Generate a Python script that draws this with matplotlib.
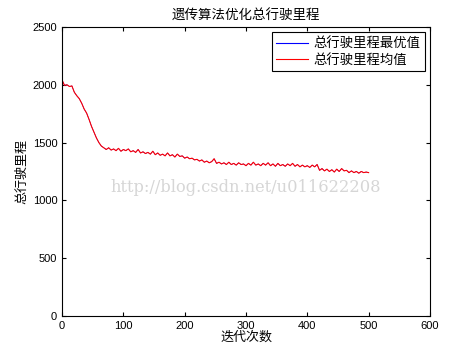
import numpy as np
import matplotlib
matplotlib.use('Agg')
import matplotlib.pyplot as plt

plt.rcParams['font.family'] = ['Noto Sans CJK SC', 'DejaVu Sans']

# iteration numbers (every 4th generation) and mean total distance
iters = list(range(0, 501, 4))
mean_dist = [2040, 1995, 2000, 1985, 1990, 1935, 1905, 1880, 1840, 1790,
             1755, 1700, 1640, 1590, 1540, 1500, 1470, 1455, 1440, 1455,
             1435, 1445, 1430, 1450, 1425, 1440, 1430, 1445, 1420, 1430,
             1415, 1440, 1410, 1420, 1405, 1415, 1400, 1425, 1395, 1410,
             1390, 1400, 1385, 1410, 1385, 1395, 1375, 1400, 1380, 1385,
             1365, 1375, 1360, 1365, 1350, 1355, 1340, 1350, 1330, 1340,
             1325, 1335, 1360, 1320, 1330, 1315, 1325, 1310, 1330, 1310,
             1320, 1305, 1325, 1310, 1315, 1300, 1320, 1305, 1330, 1305,
             1315, 1300, 1320, 1305, 1325, 1300, 1315, 1295, 1320, 1300,
             1310, 1295, 1315, 1300, 1320, 1295, 1310, 1290, 1305, 1290,
             1300, 1285, 1305, 1290, 1310, 1260, 1275, 1255, 1270, 1250,
             1265, 1245, 1270, 1250, 1275, 1255, 1260, 1240, 1255, 1240,
             1250, 1235, 1250, 1240, 1245, 1240]
best_dist = mean_dist  # best-value line is hidden under the mean line

fig = plt.figure(figsize=(4.74, 3.55), dpi=100)
ax = fig.add_axes([0.131, 0.110, 0.776, 0.814])

ax.plot(iters, best_dist, color='blue', lw=0.4, label='总行驶里程最优值')
ax.plot(iters, mean_dist, color='red', lw=0.8, label='总行驶里程均值')

ax.set_xlim(0, 600)
ax.set_ylim(0, 2500)
ax.set_xticks(range(0, 601, 100))
ax.set_yticks(range(0, 2501, 500))
ax.tick_params(direction='in', top=True, right=True, labelsize=8, length=3)
for lab in ax.get_xticklabels() + ax.get_yticklabels():
    lab.set_fontfamily('Liberation Sans')

ax.set_title('遗传算法优化总行驶里程', fontsize=9.7, pad=5)
ax.set_xlabel('迭代次数', fontsize=9.4, labelpad=0)
ax.set_ylabel('总行驶里程', fontsize=9.4, labelpad=3)

leg = ax.legend(loc='upper right', fontsize=9.6, fancybox=False, framealpha=1,
                edgecolor='black', handlelength=2.4, handletextpad=0.4,
                borderpad=0.3, labelspacing=0.2, borderaxespad=0.4)
leg.get_frame().set_linewidth(0.8)
leg.legend_handles[0].set_linewidth(0.8)

fig.text(0.518, 0.473, 'http://blog.csdn.net/u011622208', fontsize=11.7,
         family='DejaVu Serif', color='#d6d6d6', ha='center', va='center')

fig.savefig('out.png', dpi=100)
